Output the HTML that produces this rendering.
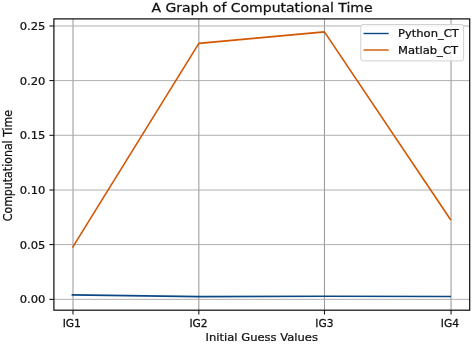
<!DOCTYPE html>
<html lang="en"><head><meta charset="utf-8"><title>A Graph of Computational Time</title>
<style>html,body{margin:0;padding:0;background:#fff}svg{display:block}text{font-family:"DejaVu Sans","Liberation Sans",sans-serif;fill:#111;stroke:#111;stroke-width:0.25px}</style></head><body>
<svg width="472" height="346" viewBox="0 0 472 346">
<rect width="472" height="346" fill="#fff"/>
<g stroke="#a8a8a8" stroke-width="0.9">
<line x1="73.0" y1="18.9" x2="73.0" y2="310.2" stroke="#959595" stroke-width="1.0"/>
<line x1="198.85" y1="18.9" x2="198.85" y2="310.2" stroke="#959595" stroke-width="1.0"/>
<line x1="324.45" y1="18.9" x2="324.45" y2="310.2" stroke="#959595" stroke-width="1.0"/>
<line x1="451.05" y1="18.9" x2="451.05" y2="310.2" stroke="#959595" stroke-width="1.0"/>
<line x1="53.9" y1="26.0" x2="469.7" y2="26.0"/>
<line x1="53.9" y1="80.6" x2="469.7" y2="80.6"/>
<line x1="53.9" y1="135.3" x2="469.7" y2="135.3"/>
<line x1="53.9" y1="190.0" x2="469.7" y2="190.0"/>
<line x1="53.9" y1="244.6" x2="469.7" y2="244.6"/>
<line x1="53.9" y1="299.35" x2="469.7" y2="299.35"/>
</g>
<polyline points="71.6,294.9 198.85,296.65 324.45,296.2 451.05,296.45" fill="none" stroke="#0b4783" stroke-width="1.6" stroke-linejoin="round" stroke-linecap="butt"/>
<polyline points="72.45,247.65 198.85,43.4 324.45,31.9 450.8,220.0" fill="none" stroke="#d35603" stroke-width="1.6" stroke-linejoin="round" stroke-linecap="butt"/>
<g stroke="#0a0a0a" stroke-width="1.0">
<line x1="73.0" y1="310.2" x2="73.0" y2="314.5"/>
<line x1="198.85" y1="310.2" x2="198.85" y2="314.5"/>
<line x1="324.45" y1="310.2" x2="324.45" y2="314.5"/>
<line x1="451.05" y1="310.2" x2="451.05" y2="314.5"/>
<line x1="53.9" y1="26.0" x2="49.4" y2="26.0"/>
<line x1="53.9" y1="80.6" x2="49.4" y2="80.6"/>
<line x1="53.9" y1="135.3" x2="49.4" y2="135.3"/>
<line x1="53.9" y1="190.0" x2="49.4" y2="190.0"/>
<line x1="53.9" y1="244.6" x2="49.4" y2="244.6"/>
<line x1="53.9" y1="299.35" x2="49.4" y2="299.35"/>
</g>
<rect x="53.9" y="18.9" width="415.8" height="291.3" fill="none" stroke="#0a0a0a" stroke-width="1.2"/>
<text transform="translate(45.40,29.90) scale(1.045,1)" font-size="11.05" text-anchor="end">0.25</text>
<text transform="translate(45.40,84.50) scale(1.045,1)" font-size="11.05" text-anchor="end">0.20</text>
<text transform="translate(45.40,139.20) scale(1.045,1)" font-size="11.05" text-anchor="end">0.15</text>
<text transform="translate(45.40,193.90) scale(1.045,1)" font-size="11.05" text-anchor="end">0.10</text>
<text transform="translate(45.40,248.50) scale(1.045,1)" font-size="11.05" text-anchor="end">0.05</text>
<text transform="translate(45.40,303.25) scale(1.045,1)" font-size="11.05" text-anchor="end">0.00</text>
<text transform="translate(71.80,326.50) scale(1.07,1)" font-size="10.0" text-anchor="middle">IG1</text>
<text transform="translate(198.55,326.50) scale(1.07,1)" font-size="10.0" text-anchor="middle">IG2</text>
<text transform="translate(324.45,326.50) scale(1.07,1)" font-size="10.0" text-anchor="middle">IG3</text>
<text transform="translate(449.95,326.50) scale(1.07,1)" font-size="10.0" text-anchor="middle">IG4</text>
<text transform="translate(261.80,341.30) scale(1.045,1)" font-size="11.05" text-anchor="middle">Initial Guess Values</text>
<text transform="translate(12.30,165.60) rotate(-90) scale(0.952,1)" font-size="11.55" text-anchor="middle">Computational Time</text>
<text transform="translate(262.00,12.10) scale(1.149,1)" font-size="12.2" text-anchor="middle">A Graph of Computational Time</text>
<rect x="360.8" y="24.5" width="102.8" height="36.4" rx="2.2" ry="2.2" fill="#fff" fill-opacity="0.8" stroke="#cccccc" stroke-width="0.9"/>
<line x1="364.2" y1="33.5" x2="388.0" y2="33.5" stroke="#0b4783" stroke-width="1.4" stroke-linecap="square"/>
<line x1="364.2" y1="50.0" x2="388.0" y2="50.0" stroke="#d35603" stroke-width="1.4" stroke-linecap="square"/>
<text transform="translate(398.00,37.45) scale(1.1,1)" font-size="10.5" text-anchor="start">Python_CT</text>
<text transform="translate(398.00,53.95) scale(1.1,1)" font-size="10.5" text-anchor="start">Matlab_CT</text>
</svg></body></html>
